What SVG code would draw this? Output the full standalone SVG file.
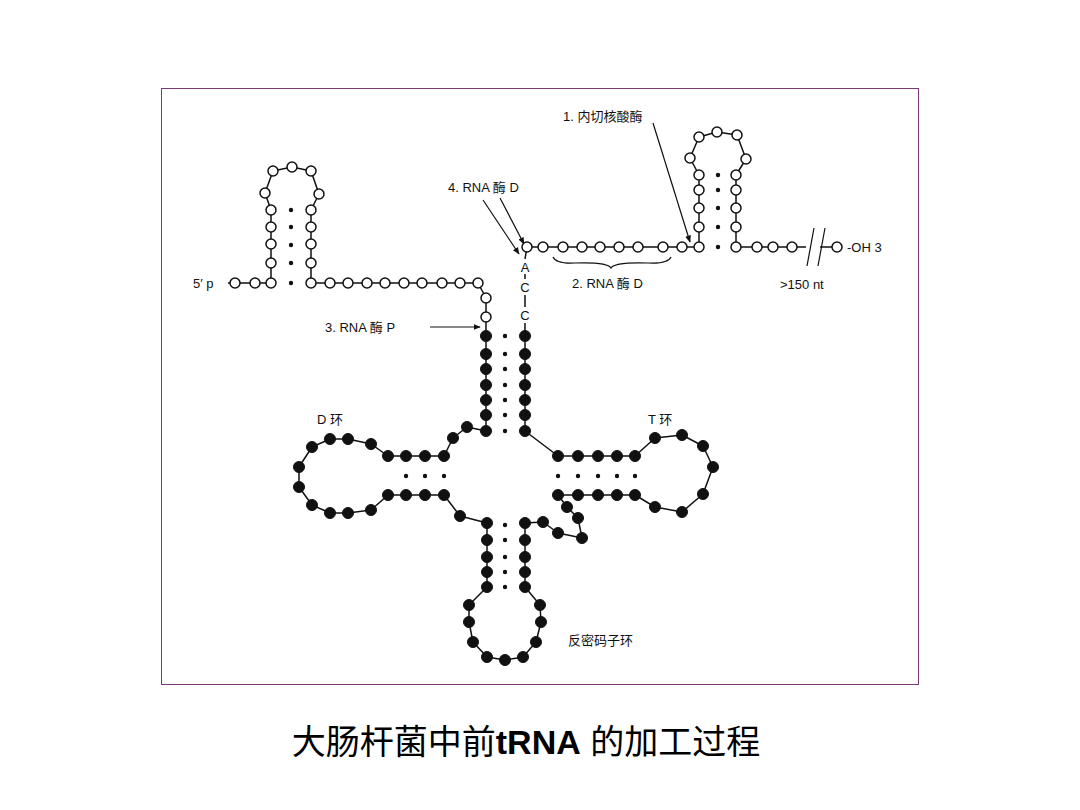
<svg xmlns="http://www.w3.org/2000/svg" width="1080" height="810" viewBox="0 0 1080 810">
<style>
.bb{fill:none;stroke:#111;stroke-width:1.5;stroke-linejoin:round}
.o{fill:#fff;stroke:#111;stroke-width:1.5}
.f{fill:#111;stroke:#111;stroke-width:1}
.d{fill:#111}
.t{font-family:"Liberation Sans","Noto Sans CJK SC",sans-serif;font-size:13px;fill:#111}
.ar{fill:none;stroke:#111;stroke-width:1.2}
</style>
<defs><marker id="ah" viewBox="0 0 10 10" refX="9" refY="5" markerWidth="6" markerHeight="6" orient="auto"><path d="M0,1 L10,5 L0,9 z" fill="#111"/></marker></defs>
<rect width="1080" height="810" fill="#fff"/>
<rect x="161.5" y="88.5" width="757" height="596" fill="none" stroke="#7a3a7a" stroke-width="1"/>
<g id="connectors">
<path class="bb" d="M228 283 L271 283 L271 210 L265 193 L273 171 L292 167 L311 171 L319 194 L311 210 L311 283 L478 283 L486 298 L486 431 L467 427 L453 438 L444 456 L388 456 L371 444 L348 439 L330 439 L312 447 L299 467 L299 487 L312 505 L330 513 L348 513 L371 510 L388 495 L444 495 L460 516 L487 523 L487 587 L469 605 L469 622 L473 642 L487 657 L505 660 L523 657 L536 642 L541 622 L540 605 L525 587 L525 523 L543 522 L558 533 L582 538 L578 518 L567 507 L558 495 L635 495 L655 507 L682 512 L703 494 L713 467 L703 446 L682 435 L655 438 L635 456 L558 456 L525 431 L525 323"/>
<path class="bb" d="M525 307 L525 295 M525 279 L525 274 M525 259 L527 247 L699 247 L699 175 L690 158 L699 137 L717 132 L737 135 L746 159 L736 175 L736 247 L806 247 M820 247 L840 247"/>
<path class="ar" d="M807 266 L814 228 M818 266 L825 228"/>
<path class="ar" d="M553 257 Q556 264 575 263 Q608 262 611 268 Q614 262 648 263 Q668 264 671 257"/>
<line class="ar" x1="430" y1="327" x2="480" y2="327" marker-end="url(#ah)"/>
<line class="ar" x1="483" y1="200" x2="519" y2="254" marker-end="url(#ah)"/>
<line class="ar" x1="500" y1="198" x2="524" y2="244" marker-end="url(#ah)"/>
<line class="ar" x1="653" y1="123" x2="690" y2="242" marker-end="url(#ah)"/>
</g>
<g id="precursor5">
<circle class="o" cx="235" cy="283" r="5"/><circle class="o" cx="255" cy="283" r="5"/>
<circle class="o" cx="271" cy="283" r="5"/><circle class="o" cx="271" cy="263" r="5"/><circle class="o" cx="271" cy="244" r="5"/><circle class="o" cx="271" cy="227" r="5"/><circle class="o" cx="271" cy="210" r="5"/>
<circle class="o" cx="265" cy="193" r="5"/><circle class="o" cx="273" cy="171" r="5"/><circle class="o" cx="292" cy="167" r="5"/><circle class="o" cx="311" cy="171" r="5"/><circle class="o" cx="319" cy="194" r="5"/>
<circle class="o" cx="311" cy="210" r="5"/><circle class="o" cx="311" cy="227" r="5"/><circle class="o" cx="311" cy="244" r="5"/><circle class="o" cx="311" cy="263" r="5"/><circle class="o" cx="311" cy="283" r="5"/>
<circle class="d" cx="291" cy="210" r="2.2"/><circle class="d" cx="291" cy="227" r="2.2"/><circle class="d" cx="291" cy="245" r="2.2"/><circle class="d" cx="291" cy="263" r="2.2"/><circle class="d" cx="291" cy="283" r="2.2"/>
<circle class="o" cx="330" cy="283" r="5"/><circle class="o" cx="348" cy="283" r="5"/><circle class="o" cx="367" cy="283" r="5"/><circle class="o" cx="385" cy="283" r="5"/><circle class="o" cx="404" cy="283" r="5"/><circle class="o" cx="422" cy="283" r="5"/><circle class="o" cx="442" cy="283" r="5"/><circle class="o" cx="460" cy="283" r="5"/><circle class="o" cx="478" cy="283" r="5"/>
<circle class="o" cx="486" cy="298" r="5"/><circle class="o" cx="486" cy="317" r="5"/>
</g>
<g id="precursor3">
<circle class="o" cx="527" cy="247" r="5"/><circle class="o" cx="543" cy="247" r="5"/><circle class="o" cx="563" cy="247" r="5"/><circle class="o" cx="582" cy="247" r="5"/><circle class="o" cx="600" cy="247" r="5"/><circle class="o" cx="619" cy="247" r="5"/><circle class="o" cx="638" cy="247" r="5"/><circle class="o" cx="663" cy="247" r="5"/><circle class="o" cx="682" cy="247" r="5"/><circle class="o" cx="699" cy="247" r="5"/>
<circle class="o" cx="699" cy="227" r="5"/><circle class="o" cx="699" cy="208" r="5"/><circle class="o" cx="699" cy="190" r="5"/><circle class="o" cx="699" cy="175" r="5"/>
<circle class="o" cx="690" cy="158" r="5"/><circle class="o" cx="699" cy="137" r="5"/><circle class="o" cx="717" cy="132" r="5"/><circle class="o" cx="737" cy="135" r="5"/><circle class="o" cx="746" cy="159" r="5"/>
<circle class="o" cx="736" cy="175" r="5"/><circle class="o" cx="736" cy="190" r="5"/><circle class="o" cx="736" cy="208" r="5"/><circle class="o" cx="736" cy="227" r="5"/><circle class="o" cx="736" cy="247" r="5"/>
<circle class="d" cx="718" cy="175" r="2.2"/><circle class="d" cx="718" cy="190" r="2.2"/><circle class="d" cx="718" cy="208" r="2.2"/><circle class="d" cx="718" cy="227" r="2.2"/><circle class="d" cx="718" cy="247" r="2.2"/>
<circle class="o" cx="757" cy="247" r="5"/><circle class="o" cx="773" cy="247" r="5"/><circle class="o" cx="792" cy="247" r="5"/><circle class="o" cx="837" cy="247" r="5"/>
</g>
<g id="acceptor">
<circle class="f" cx="486" cy="336" r="5.5"/><circle class="f" cx="486" cy="354" r="5.5"/><circle class="f" cx="486" cy="369" r="5.5"/><circle class="f" cx="486" cy="385" r="5.5"/><circle class="f" cx="486" cy="400" r="5.5"/><circle class="f" cx="486" cy="415" r="5.5"/><circle class="f" cx="486" cy="431" r="5.5"/>
<circle class="f" cx="525" cy="336" r="5.5"/><circle class="f" cx="525" cy="354" r="5.5"/><circle class="f" cx="525" cy="369" r="5.5"/><circle class="f" cx="525" cy="385" r="5.5"/><circle class="f" cx="525" cy="400" r="5.5"/><circle class="f" cx="525" cy="415" r="5.5"/><circle class="f" cx="525" cy="431" r="5.5"/>
<circle class="d" cx="505" cy="336" r="2.2"/><circle class="d" cx="505" cy="354" r="2.2"/><circle class="d" cx="505" cy="369" r="2.2"/><circle class="d" cx="505" cy="385" r="2.2"/><circle class="d" cx="505" cy="400" r="2.2"/><circle class="d" cx="505" cy="415" r="2.2"/><circle class="d" cx="505" cy="431" r="2.2"/>
<text class="t" x="525" y="272" text-anchor="middle">A</text><text class="t" x="525" y="292" text-anchor="middle">C</text><text class="t" x="525" y="320" text-anchor="middle">C</text>
</g>
<g id="darm">
<circle class="f" cx="388" cy="456" r="5.5"/><circle class="f" cx="406" cy="456" r="5.5"/><circle class="f" cx="425" cy="456" r="5.5"/><circle class="f" cx="444" cy="456" r="5.5"/>
<circle class="f" cx="388" cy="495" r="5.5"/><circle class="f" cx="406" cy="495" r="5.5"/><circle class="f" cx="425" cy="495" r="5.5"/><circle class="f" cx="444" cy="495" r="5.5"/>
<circle class="d" cx="406" cy="476" r="2.2"/><circle class="d" cx="425" cy="476" r="2.2"/><circle class="d" cx="444" cy="476" r="2.2"/>
<circle class="f" cx="371" cy="444" r="5.5"/><circle class="f" cx="348" cy="439" r="5.5"/><circle class="f" cx="330" cy="439" r="5.5"/><circle class="f" cx="312" cy="447" r="5.5"/><circle class="f" cx="299" cy="467" r="5.5"/><circle class="f" cx="299" cy="487" r="5.5"/><circle class="f" cx="312" cy="505" r="5.5"/><circle class="f" cx="330" cy="513" r="5.5"/><circle class="f" cx="348" cy="513" r="5.5"/><circle class="f" cx="371" cy="510" r="5.5"/>
<circle class="f" cx="453" cy="438" r="5.5"/><circle class="f" cx="467" cy="427" r="5.5"/><circle class="f" cx="460" cy="516" r="5.5"/>
</g>
<g id="anticodon">
<circle class="f" cx="487" cy="523" r="5.5"/><circle class="f" cx="487" cy="540" r="5.5"/><circle class="f" cx="487" cy="557" r="5.5"/><circle class="f" cx="487" cy="572" r="5.5"/><circle class="f" cx="487" cy="587" r="5.5"/>
<circle class="f" cx="525" cy="523" r="5.5"/><circle class="f" cx="525" cy="540" r="5.5"/><circle class="f" cx="525" cy="557" r="5.5"/><circle class="f" cx="525" cy="572" r="5.5"/><circle class="f" cx="525" cy="587" r="5.5"/>
<circle class="d" cx="505" cy="525" r="2.2"/><circle class="d" cx="505" cy="540" r="2.2"/><circle class="d" cx="505" cy="557" r="2.2"/><circle class="d" cx="505" cy="572" r="2.2"/><circle class="d" cx="505" cy="587" r="2.2"/>
<circle class="f" cx="469" cy="605" r="5.5"/><circle class="f" cx="469" cy="622" r="5.5"/><circle class="f" cx="473" cy="642" r="5.5"/><circle class="f" cx="487" cy="657" r="5.5"/><circle class="f" cx="505" cy="660" r="5.5"/><circle class="f" cx="523" cy="657" r="5.5"/><circle class="f" cx="536" cy="642" r="5.5"/><circle class="f" cx="541" cy="622" r="5.5"/><circle class="f" cx="540" cy="605" r="5.5"/>
</g>
<g id="tarm">
<circle class="f" cx="543" cy="522" r="5.5"/><circle class="f" cx="558" cy="533" r="5.5"/><circle class="f" cx="582" cy="538" r="5.5"/><circle class="f" cx="578" cy="518" r="5.5"/><circle class="f" cx="567" cy="507" r="5.5"/>
<circle class="f" cx="558" cy="456" r="5.5"/><circle class="f" cx="578" cy="456" r="5.5"/><circle class="f" cx="598" cy="456" r="5.5"/><circle class="f" cx="617" cy="456" r="5.5"/><circle class="f" cx="635" cy="456" r="5.5"/>
<circle class="f" cx="558" cy="495" r="5.5"/><circle class="f" cx="578" cy="495" r="5.5"/><circle class="f" cx="598" cy="495" r="5.5"/><circle class="f" cx="617" cy="495" r="5.5"/><circle class="f" cx="635" cy="495" r="5.5"/>
<circle class="d" cx="558" cy="476" r="2.2"/><circle class="d" cx="578" cy="476" r="2.2"/><circle class="d" cx="598" cy="476" r="2.2"/><circle class="d" cx="617" cy="476" r="2.2"/><circle class="d" cx="635" cy="476" r="2.2"/>
<circle class="f" cx="655" cy="438" r="5.5"/><circle class="f" cx="682" cy="435" r="5.5"/><circle class="f" cx="703" cy="446" r="5.5"/><circle class="f" cx="713" cy="467" r="5.5"/><circle class="f" cx="703" cy="494" r="5.5"/><circle class="f" cx="682" cy="512" r="5.5"/><circle class="f" cx="655" cy="507" r="5.5"/>
</g>
<g id="labels">
<text class="t" x="193" y="288">5′ p</text>
<text class="t" x="847" y="252">-OH 3</text>
<text class="t" x="325" y="332">3.  RNA 酶 P</text>
<text class="t" x="448" y="192">4. RNA 酶 D</text>
<text class="t" x="572" y="288">2. RNA 酶 D</text>
<text class="t" x="780" y="289" font-size="12">&gt;150 nt</text>
<text class="t" x="563" y="121">1.  内切核酸酶</text>
<text class="t" x="317" y="424">D 环</text>
<text class="t" x="648" y="424">T 环</text>
<text class="t" x="568" y="645" font-size="14">反密码子环</text>
<text x="526" y="754" text-anchor="middle" font-family="'Liberation Sans','Noto Sans CJK SC',sans-serif" font-size="34" fill="#000">大肠杆菌中前<tspan font-weight="bold">tRNA</tspan> 的加工过程</text>
</g>
</svg>
